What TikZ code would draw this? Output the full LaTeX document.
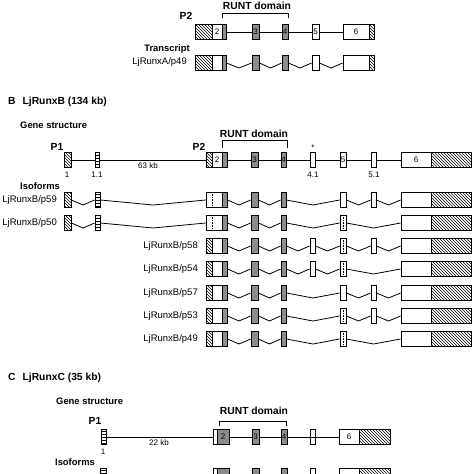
\documentclass[tikz,border=0pt]{standalone}
\usepackage{fontspec}
\setmainfont{Liberation Sans}
\usetikzlibrary{patterns,calc}
\tikzset{
 ex/.style={draw, line width=0.8pt, inner sep=0pt, minimum height=15pt, fill=white, font=\fontsize{8}{9}\selectfont},
 gr/.style={fill=black!45},
 ht/.style={pattern=north west lines},
 hl/.style={pattern=horizontal lines},
 ln/.style={line width=0.8pt},
 dl/.style={line width=0.6pt, densely dotted},
 lab/.style={font=\fontsize{9.5}{11}\selectfont, anchor=east, inner sep=0pt},
 hd/.style={font=\bfseries\fontsize{10.3}{12}\selectfont, inner sep=0pt},
 sub/.style={font=\bfseries\fontsize{9.4}{11}\selectfont, inner sep=0pt},
 num/.style={font=\fontsize{8}{9}\selectfont, inner sep=0pt},
}
\newcommand\ex[6][]{\node[ex,#1,minimum width={(#4-#3)*1pt}] (#2) at ({(#3+#4)/2},#5) {#6};}
\newcommand\spl[2]{\draw[ln] (#1.east) -- ($(#1.east)!0.5!(#2.west)+(0,5)$) -- (#2.west);}
\newcommand\lin[2]{\draw[ln] (#1.east) -- (#2.west);}
\newcommand\dotl[2]{\draw[dl] ($(#1.north west)+(#2,0)$) -- ($(#1.south west)+(#2,0)$);}
% composite exon 2 (B) with hatched start
\newcommand\Etwo[2]{\ex[ht]{#1h}{206}{212}{#2}{}\ex{#1w}{212}{222}{#2}{}\ex[gr]{#1g}{222}{227}{#2}{}}
% composite exon 2 (B) white with dotted line
\newcommand\Etwod[2]{\ex{#1w}{206}{222}{#2}{}\ex[gr]{#1g}{222}{227}{#2}{}\dotl{#1w}{7}}
\newcommand\Esix[2]{\ex{#1w}{401}{431}{#2}{}\ex[ht]{#1h}{431}{471}{#2}{}}
\begin{document}
\begin{tikzpicture}[x=1pt,y=-1pt]
\useasboundingbox (0,0) rectangle (474,474);
\clip (0,0) rectangle (474,474);
% ================= A =================
\node[hd] (aRunt) at (257,6) {RUNT domain};
\draw[ln] (222,18) -- (222,13) -- (288,13) -- (288,18);
\node[hd] (aP2) at (186,16) {P2};
\ex[ht]{a2h}{195}{212}{32}{}
\ex{a2w}{212}{222}{32}{2}
\ex[gr]{a2g}{222}{226}{32}{}
\ex[gr]{a3}{252}{259}{32}{3}
\ex[gr]{a4}{282}{288}{32}{4}
\ex{a5}{312}{319}{32}{5}
\ex{a6w}{343}{369}{32}{6}
\ex[ht]{a6h}{369}{374}{32}{}
\lin{a2g}{a3}\lin{a3}{a4}\lin{a4}{a5}\lin{a5}{a6w}
\node[sub] (aTr) at (167,49) {Transcript};
\node[lab] (aLab) at (187,62) {LjRunxA/p49};
\ex[ht]{t2h}{195}{212}{63}{}
\ex{t2w}{212}{222}{63}{}
\ex[gr]{t2g}{222}{226}{63}{}
\ex[gr]{t3}{252}{259}{63}{}
\ex[gr]{t4}{282}{288}{63}{}
\ex{t5}{312}{319}{63}{}
\ex{t6w}{343}{369}{63}{}
\ex[ht]{t6h}{369}{374}{63}{}
\spl{t2g}{t3}\spl{t3}{t4}\spl{t4}{t5}\spl{t5}{t6w}
% ================= B =================
\node[hd,anchor=west] (bHead) at (8,102) {B\hspace{7pt}LjRunxB (134 kb)};
\node[sub,anchor=west] (bGene) at (20,125) {Gene structure};
\node[hd] (bP1) at (57,147) {P1};
\node[hd] (bP2) at (199,147) {P2};
\node[hd] (bRunt) at (254,134) {RUNT domain};
\draw[ln] (222,148) -- (222,140) -- (287,140) -- (287,148);
\ex[ht]{g1}{64}{71}{160}{}
\ex[hl]{g11}{95}{99}{160}{}
\ex[ht]{g2h}{206}{212}{160}{}
\ex{g2w}{212}{222}{160}{2}
\ex[gr]{g2g}{222}{227}{160}{}
\ex[gr]{g3}{251}{258}{160}{3}
\ex[gr]{g4}{281}{286}{160}{4}
\ex{g41}{310}{315}{160}{}
\ex{g5}{340}{346}{160}{5}
\ex{g51}{371}{376}{160}{}
\ex{g6w}{401}{431}{160}{6}
\ex[ht]{g6h}{431}{471}{160}{}
\lin{g1}{g11}\lin{g11}{g2h}\lin{g2g}{g3}\lin{g3}{g4}\lin{g4}{g41}\lin{g41}{g5}\lin{g5}{g51}\lin{g51}{g6w}
\node[num] (n1) at (67,175) {1};
\node[num] (n11) at (97,175) {1.1};
\node[num] (n63) at (148,166) {63 kb};
\node[num] (n41) at (313,175) {4.1};
\node[num] (n51) at (374,175) {5.1};
\node[num] (ast) at (313,148) {*};
\node[sub,anchor=west] (bIso) at (20,186) {Isoforms};
% p59
\node[lab] (l1) at (57,200) {LjRunxB/p59};
\ex[ht]{r1e1}{64}{71}{200}{}
\ex[hl]{r1e11}{95}{100}{200}{}
\Etwod{r1e2}{200}
\ex[gr]{r1e3}{251}{258}{200}{}
\ex[gr]{r1e4}{281}{286}{200}{}
\ex{r1e5}{340}{346}{200}{}
\ex{r1e51}{371}{376}{200}{}
\Esix{r1e6}{200}
\spl{r1e1}{r1e11}\spl{r1e11}{r1e2w}\spl{r1e2g}{r1e3}\spl{r1e3}{r1e4}\spl{r1e4}{r1e5}\spl{r1e5}{r1e51}\spl{r1e51}{r1e6w}
% p50
\node[lab] (l2) at (57,223) {LjRunxB/p50};
\ex[ht]{r2e1}{64}{71}{223}{}
\ex[hl]{r2e11}{95}{100}{223}{}
\Etwod{r2e2}{223}
\ex[gr]{r2e3}{251}{258}{223}{}
\ex[gr]{r2e4}{281}{286}{223}{}
\ex{r2e5}{340}{346}{223}{}\dotl{r2e5}{4}
\Esix{r2e6}{223}
\spl{r2e1}{r2e11}\spl{r2e11}{r2e2w}\spl{r2e2g}{r2e3}\spl{r2e3}{r2e4}\spl{r2e4}{r2e5}\spl{r2e5}{r2e6w}
% p58
\node[lab] (l3) at (198,246) {LjRunxB/p58};
\Etwo{r3e2}{246}
\ex[gr]{r3e3}{251}{258}{246}{}
\ex[gr]{r3e4}{281}{286}{246}{}
\ex{r3e41}{310}{315}{246}{}
\ex{r3e5}{340}{346}{246}{}\dotl{r3e5}{4}
\ex{r3e51}{371}{376}{246}{}
\Esix{r3e6}{246}
\spl{r3e2g}{r3e3}\spl{r3e3}{r3e4}\spl{r3e4}{r3e41}\spl{r3e41}{r3e5}\spl{r3e5}{r3e51}\spl{r3e51}{r3e6w}
% p54
\node[lab] (l4) at (198,269) {LjRunxB/p54};
\Etwo{r4e2}{269}
\ex[gr]{r4e3}{251}{258}{269}{}
\ex[gr]{r4e4}{281}{286}{269}{}
\ex{r4e41}{310}{315}{269}{}
\ex{r4e5}{340}{346}{269}{}\dotl{r4e5}{4}
\Esix{r4e6}{269}
\spl{r4e2g}{r4e3}\spl{r4e3}{r4e4}\spl{r4e4}{r4e41}\spl{r4e41}{r4e5}\spl{r4e5}{r4e6w}
% p57
\node[lab] (l5) at (198,293) {LjRunxB/p57};
\Etwo{r5e2}{293}
\ex[gr]{r5e3}{251}{258}{293}{}
\ex[gr]{r5e4}{281}{286}{293}{}
\ex{r5e5}{340}{346}{293}{}
\ex{r5e51}{371}{376}{293}{}
\Esix{r5e6}{293}
\spl{r5e2g}{r5e3}\spl{r5e3}{r5e4}\spl{r5e4}{r5e5}\spl{r5e5}{r5e51}\spl{r5e51}{r5e6w}
% p53
\node[lab] (l6) at (198,316) {LjRunxB/p53};
\Etwo{r6e2}{316}
\ex[gr]{r6e3}{251}{258}{316}{}
\ex[gr]{r6e4}{281}{286}{316}{}
\ex{r6e5}{340}{346}{316}{}\dotl{r6e5}{4}
\ex{r6e51}{371}{376}{316}{}
\Esix{r6e6}{316}
\spl{r6e2g}{r6e3}\spl{r6e3}{r6e4}\spl{r6e4}{r6e5}\spl{r6e5}{r6e51}\spl{r6e51}{r6e6w}
% p49
\node[lab] (l7) at (198,339) {LjRunxB/p49};
\Etwo{r7e2}{339}
\ex[gr]{r7e3}{251}{258}{339}{}
\ex[gr]{r7e4}{281}{286}{339}{}
\ex{r7e5}{340}{346}{339}{}\dotl{r7e5}{4}
\Esix{r7e6}{339}
\spl{r7e2g}{r7e3}\spl{r7e3}{r7e4}\spl{r7e4}{r7e5}\spl{r7e5}{r7e6w}
% ================= C =================
\node[hd,anchor=west] (cHead) at (8,378) {C\hspace{7pt}LjRunxC (35 kb)};
\node[sub,anchor=west] (cGene) at (56,401) {Gene structure};
\node[hd] (cP1) at (95,421) {P1};
\node[hd] (cRunt) at (254,411) {RUNT domain};
\draw[ln] (219,426) -- (219,421) -- (286,421) -- (286,426);
\ex[hl]{c1}{101}{106}{437}{}
\ex{c2w}{213}{217}{437}{}
\ex[gr]{c2g}{217}{229}{437}{2}
\ex[gr]{c3}{252}{259}{437}{3}
\ex[gr]{c4}{281}{287}{437}{4}
\ex{c5}{310}{315}{437}{}
\ex{c6w}{339}{359}{437}{6}
\ex[ht]{c6h}{359}{390}{437}{}
\lin{c1}{c2w}\lin{c2g}{c3}\lin{c3}{c4}\lin{c4}{c5}\lin{c5}{c6w}
\draw[ln] (c5.west) -- (c5.east);
\node[num] (cn1) at (103,452) {1};
\node[num] (c22) at (159,443) {22 kb};
\node[sub] (cIso) at (75,462) {Isoforms};
\ex[hl]{d1}{100}{106}{476}{}
\ex{d2w}{213}{217}{476}{}
\ex[gr]{d2g}{217}{229}{476}{}
\ex[gr]{d3}{252}{259}{476}{}
\ex[gr]{d4}{281}{287}{476}{}
\ex{d5}{310}{315}{476}{}
\ex{d6w}{339}{359}{476}{}
\ex[ht]{d6h}{359}{390}{476}{}
\end{tikzpicture}
\end{document}
